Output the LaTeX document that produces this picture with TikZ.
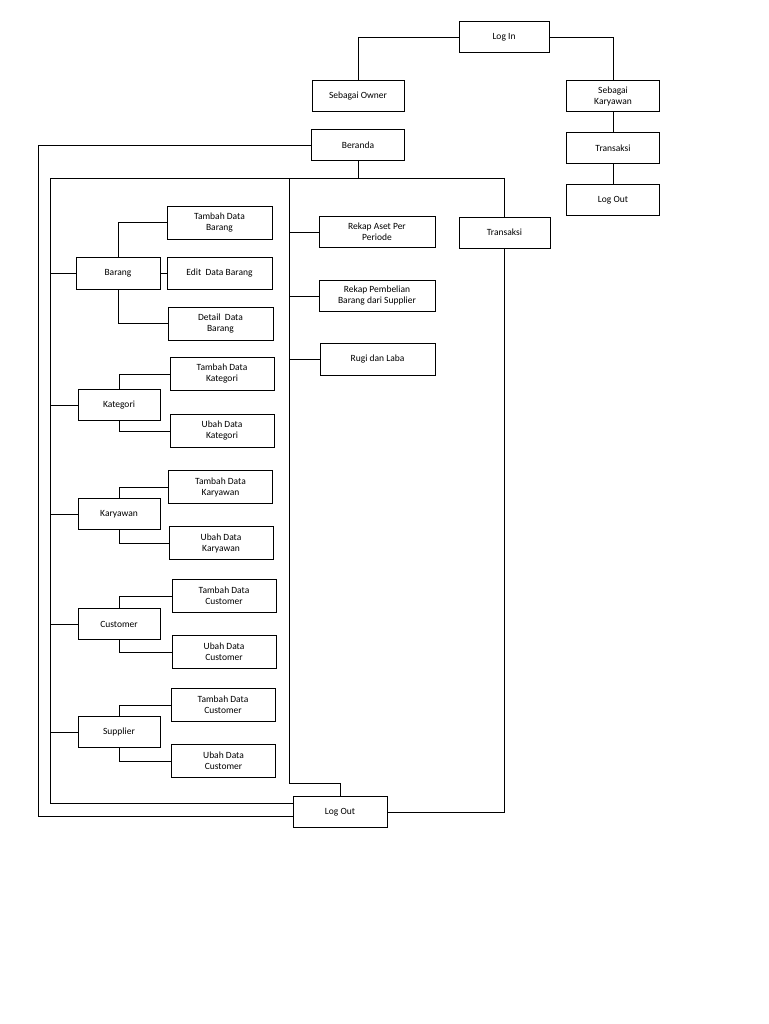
\documentclass[tikz,border=0pt]{standalone}
\usepackage{fontspec}
\setmainfont{Carlito}
\begin{document}
\begin{tikzpicture}[x=1pt,y=-1pt,
  bx/.style={draw,fill=white,line width=0.8pt,inner sep=0pt,align=center,font=\fontsize{9.5}{11}\selectfont},
  ln/.style={line width=0.8pt}]
\useasboundingbox (0,0) rectangle (768,1024);
\newcommand{\bxat}[6]{\node[bx,minimum width=#3pt,minimum height=#4pt] (#1) at (#2) {#5};}
% top
\node[bx,minimum width=90pt,minimum height=31pt] (login) at (504,37) {Log In};
\node[bx,minimum width=92pt,minimum height=31pt] (owner) at (358,96) {Sebagai Owner};
\node[bx,minimum width=93pt,minimum height=31pt] (skar) at (613,96) {Sebagai\\Karyawan};
\node[bx,minimum width=93pt,minimum height=31pt] (beranda) at (358,145) {Beranda};
\node[bx,minimum width=93pt,minimum height=31pt] (trk) at (613,148) {Transaksi};
\node[bx,minimum width=93pt,minimum height=31pt] (lok) at (613,200) {Log Out};
\draw[ln] (login.west) -| (owner.north);
\draw[ln] (login.east) -| (skar.north);
\draw[ln] (skar) -- (trk);
\draw[ln] (trk) -- (lok);
% frame
\node[bx,minimum width=94pt,minimum height=31pt] (logout) at (340,812) {Log Out};
\coordinate (ftl) at (50,178);
\coordinate (ftr) at (504,178);
\coordinate (mid) at (289,178);
\draw[ln] (beranda.south) -- (358,178);
\draw[ln] (ftr) -- (ftl) -- (50,803) -- (logout.west|-0,803);
\draw[ln] (ftr) -- (504,812) -- (logout.east|-0,812);
\draw[ln] (beranda.west) -- (38,145) -- (38,816) -- (logout.west|-0,816);
\draw[ln] (mid) -- (289,783) -- (340,783) -- (logout.north);
\node[bx,minimum width=91pt,minimum height=31pt] (trm) at (504.5,232.5) {Transaksi};
% right column
\node[bx,minimum width=116pt,minimum height=31pt] (r1) at (377,232) {Rekap Aset Per\\Periode};
\node[bx,minimum width=116pt,minimum height=31pt] (r2) at (377,296) {Rekap Pembelian\\Barang dari Supplier};
\node[bx,minimum width=115pt,minimum height=32pt] (r3) at (377.5,359) {Rugi dan Laba};
\foreach \r in {r1,r2,r3} \draw[ln] (289,0|-\r.west) -- (\r.west);
% left column
\node[bx,minimum width=84pt,minimum height=32pt] (barang) at (118,273) {Barang};
\node[bx,minimum width=105pt,minimum height=33pt] (b1) at (219.5,222.5) {Tambah Data\\Barang};
\node[bx,minimum width=105pt,minimum height=32pt] (b2) at (219.5,273) {Edit\ \ Data Barang};
\node[bx,minimum width=105pt,minimum height=33pt] (b3) at (220.5,323.5) {Detail\ \ Data\\Barang};
\draw[ln] (barang.north) |- (b1.west);
\draw[ln] (barang.east) -- (b2.west);
\draw[ln] (barang.south) |- (b3.west);
\draw[ln] (50,0|-barang.west) -- (barang.west);
\newcommand{\grp}[9]{%
 \node[bx,minimum width=82pt,minimum height=31pt] (#1) at (119,#2) {#3};
 \node[bx,minimum width=104pt,minimum height=33pt] (#1a) at (#4,#5) {#6};
 \node[bx,minimum width=104pt,minimum height=33pt] (#1b) at (#7,#8) {#9};
 \draw[ln] (#1.north) |- (#1a.west);
 \draw[ln] (#1.south) |- (#1b.west);
 \draw[ln] (50,0|-#1.west) -- (#1.west);}
\grp{kat}{405}{Kategori}{222}{374}{Tambah Data\\Kategori}{222}{431}{Ubah Data\\Kategori}
\grp{kar}{514}{Karyawan}{220.5}{487}{Tambah Data\\Karyawan}{221}{543}{Ubah Data\\Karyawan}
\grp{cus}{624}{Customer}{224}{596}{Tambah Data\\Customer}{224}{652}{Ubah Data\\Customer}
\grp{sup}{732}{Supplier}{223}{705}{Tambah Data\\Customer}{223.5}{761}{Ubah Data\\Customer}
\end{tikzpicture}
\end{document}
